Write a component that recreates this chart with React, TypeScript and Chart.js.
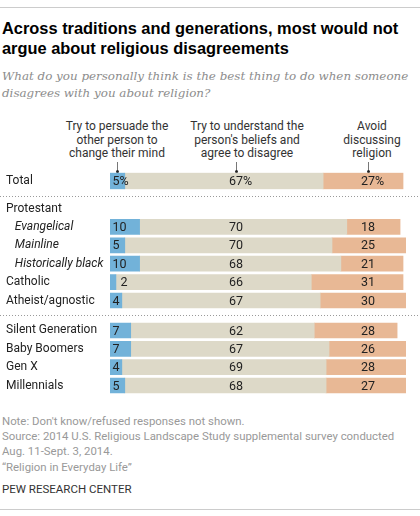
import { useEffect, useRef } from 'react';
import { Chart, registerables } from 'chart.js';

Chart.register(...registerables);

const seriesNames = [
  'Try to persuade the other person to change their mind',
  "Try to understand the person's beliefs and agree to disagree",
  'Avoid discussing religion',
];
const seriesColors = ['#72B2D9', '#DDD9C8', '#E8B895'];

const totalLabels = ['Total'];
const totalPersuade = [5];
const totalUnderstand = [67];
const totalAvoid = [27];

const religionLabels = ['Protestant', 'Evangelical', 'Mainline', 'Historically black', 'Catholic', 'Atheist/agnostic'];
const religionPersuade = [null, 10, 5, 10, 2, 4];
const religionUnderstand = [null, 70, 70, 68, 66, 67];
const religionAvoid = [null, 18, 25, 21, 31, 30];

const generationLabels = ['Silent Generation', 'Baby Boomers', 'Gen X', 'Millennials'];
const generationPersuade = [7, 7, 4, 5];
const generationUnderstand = [62, 67, 69, 68];
const generationAvoid = [28, 26, 28, 27];

// sub-groups shown indented and in italics
const indented = ['Evangelical', 'Mainline', 'Historically black'];

const FONT = "'Roboto', sans-serif";
const TEXT = '#222';

// value labels sit in fixed columns, like the original
const MID_LABEL_AT = 40.2;
const END_LABEL_AT = 84.8;

const valueLabels = {
  id: 'valueLabels',
  afterDatasetsDraw(chart: any, _args: any, opts: any) {
    const { ctx } = chart;
    const x = chart.scales.x;
    ctx.save();
    ctx.font = `12.5px ${FONT}`;
    ctx.fillStyle = TEXT;
    ctx.textBaseline = 'middle';
    ctx.textAlign = 'left';
    chart.data.datasets.forEach((ds: any, di: number) => {
      const meta = chart.getDatasetMeta(di);
      meta.data.forEach((el: any, i: number) => {
        const v = ds.data[i];
        if (v == null) return;
        const text = v + (opts.suffix || '');
        let px;
        if (di === 0) {
          px = el.x - el.base < 8 ? el.x + 4.5 : el.base + 2.5;
        } else if (di === 1) {
          px = x.getPixelForValue(MID_LABEL_AT);
        } else {
          px = x.getPixelForValue(END_LABEL_AT);
        }
        ctx.fillText(text, px, el.y + 1);
      });
    });
    ctx.restore();
  },
};

function BarPanel({ labels, values, suffix, top, height, thickness }: any) {
  const ref = useRef<HTMLCanvasElement>(null);

  useEffect(() => {
    if (!ref.current) return;
    const chart = new Chart(ref.current, {
      type: 'bar',
      data: {
        labels,
        datasets: values.map((data: any, i: number) => ({
          label: seriesNames[i],
          data,
          backgroundColor: seriesColors[i],
          borderWidth: 0,
          barThickness: thickness,
        })),
      },
      options: {
        indexAxis: 'y',
        animation: false,
        responsive: false,
        maintainAspectRatio: false,
        layout: { padding: { left: 6, right: 14, top: 0, bottom: 0 } },
        plugins: {
          legend: { display: false },
          tooltip: { enabled: false },
          valueLabels: { suffix },
        } as any,
        scales: {
          x: { stacked: true, min: 0, max: 100, display: false },
          y: {
            stacked: true,
            grid: { display: false },
            border: { display: false },
            afterFit: (scale: any) => { scale.width = 104; },
            ticks: {
              autoSkip: false,
              crossAlign: 'far',
              padding: 0,
              color: TEXT,
              // tiny line height so the labels do not pad the plot area
              font: (c: any) => ({
                family: FONT,
                size: 12,
                lineHeight: 0.05,
                style: indented.includes(labels[c.index]) ? 'italic' : 'normal',
              }),
              callback: (_v: any, i: number) =>
                indented.includes(labels[i]) ? '   ' + labels[i] : labels[i],
            },
          },
        },
      },
      plugins: [valueLabels],
    });
    return () => chart.destroy();
  }, []);

  return (
    <canvas
      ref={ref}
      width={420}
      height={height}
      style={{ position: 'absolute', left: 0, top, width: 420, height }}
    />
  );
}

const abs = (s: any) => ({ position: 'absolute' as const, ...s });
const dotted = {
  height: 1,
  background: 'repeating-linear-gradient(to right, #9a9a9a 0 1px, transparent 1px 3px)',
};

export default function App() {
  useEffect(() => {
    document.body.style.margin = '0';
  }, []);

  const headerLines = [
    ['Try to persuade the', 'other person to', 'change their mind'],
    ['Try to understand the', "person's beliefs and", 'agree to disagree'],
    ['Avoid', 'discussing', 'religion'],
  ];
  const headerCenters = [117, 247, 372];
  const pointerX = [117, 236, 368];

  return (
    <div style={{ position: 'relative', width: 420, height: 516, background: '#fff', overflow: 'hidden', fontFamily: FONT }}>
      <div style={abs({ left: 0, top: 7, width: 420, height: 1, background: '#ccc' })} />
      <div style={abs({ left: 2, top: 18, width: 418, fontFamily: "'Liberation Sans', sans-serif", fontWeight: 'bold', fontSize: 16.4, lineHeight: '20px', color: '#000' })}>
        Across traditions and generations, most would not argue about religious disagreements
      </div>
      <div style={abs({ left: 2, top: 68, width: 418, fontFamily: "'DejaVu Serif', serif", fontStyle: 'italic', fontSize: 11.9, lineHeight: '16.5px', color: '#8c8c8c' })}>
        What do you personally think is the best thing to do when someone disagrees with you about religion?
      </div>

      {headerLines.map((lines, i) => (
        <div key={i} style={abs({ left: headerCenters[i] - 70, top: 120, width: 140, textAlign: 'center', fontSize: 12, lineHeight: '13.7px', color: '#333' })}>
          {lines.map((l) => <div key={l}>{l}</div>)}
        </div>
      ))}
      {pointerX.map((x) => (
        <div key={x}>
          <div style={abs({ left: x - 0.5, top: 162, width: 1, height: 9, background: '#777' })} />
          <div style={abs({ left: x - 1.5, top: 169.5, width: 3, height: 3, borderRadius: 2, background: '#222' })} />
        </div>
      ))}

      <BarPanel labels={totalLabels} values={[totalPersuade, totalUnderstand, totalAvoid]} suffix="%" top={172} height={18} thickness={16} />
      <div style={abs({ left: 0, top: 196, width: 420, ...dotted })} />
      <BarPanel labels={religionLabels} values={[religionPersuade, religionUnderstand, religionAvoid]} suffix="" top={199} height={111} thickness={15} />
      <div style={abs({ left: 0, top: 315, width: 420, ...dotted })} />
      <BarPanel labels={generationLabels} values={[generationPersuade, generationUnderstand, generationAvoid]} suffix="" top={321} height={74} thickness={15} />

      <div style={abs({ left: 2, top: 414, width: 418, fontSize: 11.4, lineHeight: '15.2px', color: '#999' })}>
        <div>Note: Don't know/refused responses not shown.</div>
        <div>Source: 2014 U.S. Religious Landscape Study supplemental survey conducted</div>
        <div>Aug. 11-Sept. 3, 2014.</div>
        <div>“Religion in Everyday Life”</div>
      </div>
      <div style={abs({ left: 2, top: 482, fontSize: 11.5, lineHeight: '15px', color: '#333' })}>PEW RESEARCH CENTER</div>
      <div style={abs({ left: 0, top: 509, width: 420, height: 1, background: '#ccc' })} />
    </div>
  );
}
